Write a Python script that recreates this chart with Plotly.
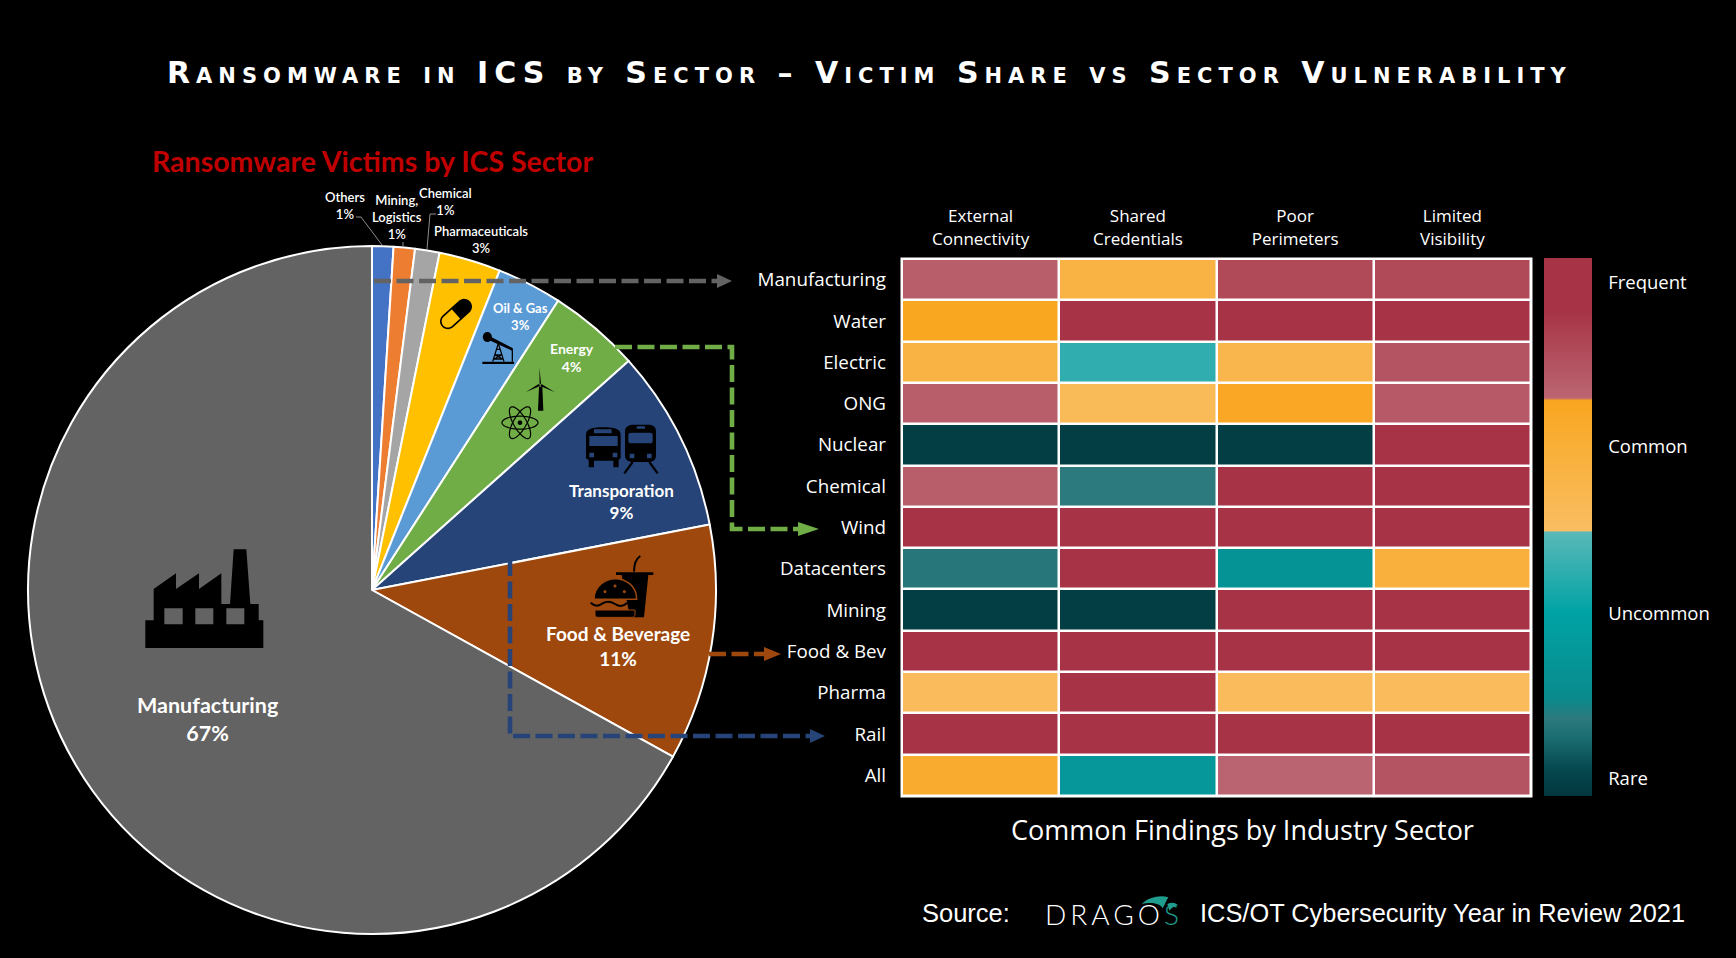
import re

import numpy as np
import plotly.graph_objects as go

WIDTH, HEIGHT = 1736, 958

# pie, clockwise from 12 o'clock
sectors = ["Others", "Mining, Logistics", "Chemical", "Pharmaceuticals", "Oil & Gas",
           "Energy", "Transporation", "Food & Beverage", "Manufacturing"]
victim_share = [1, 1, 1.15, 2.9, 3.05, 4.3, 8.55, 11.1, 66.95]
share_labels = ["1%", "1%", "1%", "3%", "3%", "4%", "9%", "11%", "67%"]
sector_colors = ["#4472C4", "#ED7D31", "#A5A5A5", "#FFC000", "#5B9BD5",
                 "#70AD47", "#264478", "#9E480E", "#636363"]

# heatmap
findings = ["External<br>Connectivity", "Shared<br>Credentials", "Poor<br>Perimeters", "Limited<br>Visibility"]
industries = ["Manufacturing", "Water", "Electric", "ONG", "Nuclear", "Chemical", "Wind",
              "Datacenters", "Mining", "Food & Bev", "Pharma", "Rail", "All"]
frequency = [
    [0.77, 0.60, 0.83, 0.83],
    [0.73, 0.95, 0.95, 0.95],
    [0.60, 0.42, 0.57, 0.80],
    [0.77, 0.53, 0.72, 0.78],
    [0.02, 0.02, 0.02, 0.95],
    [0.77, 0.145, 0.95, 0.95],
    [0.95, 0.95, 0.95, 0.95],
    [0.135, 0.95, 0.24, 0.63],
    [0.02, 0.02, 0.95, 0.95],
    [0.95, 0.95, 0.95, 0.95],
    [0.52, 0.95, 0.52, 0.52],
    [0.95, 0.95, 0.95, 0.95],
    [0.68, 0.26, 0.745, 0.80],
]
scale_values = [0.955, 0.649, 0.34, 0.033]
scale_labels = ["Frequent", "Common", "Uncommon", "Rare"]
scale_colors = [
    [0.0, "#03373E"], [0.05, "#05484F"], [0.11, "#1B6E72"], [0.145, "#2C7A7D"], [0.18, "#0A8A8C"],
    [0.34, "#00A3A5"], [0.49, "#5AB8B8"], [0.4935, "#F9BE62"],
    [0.735, "#F9A620"], [0.74, "#BC6672"], [0.9, "#A63446"], [1.0, "#A63446"],
]


def crop_path(d, ox, oy):
    # icon outlines were measured on 3x crops, bring them back to page pixels
    out, is_x = [], True
    for tok in d.split():
        if re.fullmatch(r"[A-Za-z]", tok):
            out.append(tok)
            is_x = True
        else:
            out.append(f"{(ox if is_x else oy) + float(tok) / 3:.2f}")
            is_x = not is_x
    return " ".join(out)


def points_path(xs, ys, close=True):
    d = "M " + " L ".join(f"{x:.2f} {y:.2f}" for x, y in zip(xs, ys))
    return d + " Z" if close else d


def ellipse_path(cx, cy, rx, ry, deg=0):
    t = np.radians(np.arange(0, 360, 8))
    a = np.radians(deg)
    xs = cx + rx * np.cos(t) * np.cos(a) - ry * np.sin(t) * np.sin(a)
    ys = cy + rx * np.cos(t) * np.sin(a) + ry * np.sin(t) * np.cos(a)
    return points_path(xs, ys)


def capsule_path(cx, cy, half, r, deg, top_half_only=False):
    a = np.radians(deg)
    t1 = np.radians(np.arange(-90, 91, 10))
    t2 = t1 + np.pi
    lx = np.concatenate([half + r * np.cos(t1), (0 * t2[:1] if top_half_only else -half + r * np.cos(t2))])
    ly = np.concatenate([r * np.sin(t1), (r * np.ones(1) if top_half_only else r * np.sin(t2))])
    if top_half_only:
        lx = np.append(lx, 0)
        ly = np.append(ly, -r)
    return points_path(cx + lx * np.cos(a) - ly * np.sin(a), cy + lx * np.sin(a) + ly * np.cos(a))


shapes = []


def add_shape(path, fill=None, color=None, lw=0, dash=None, layer="above"):
    line = dict(color=color or "rgba(0,0,0,0)", width=lw)
    if dash:
        line["dash"] = dash
    shapes.append(dict(type="path", path=path, xref="x2", yref="y2", layer=layer,
                       fillcolor=fill or "rgba(0,0,0,0)", line=line))


def add_arrow(xs, ys, tip_x, color):
    add_shape(points_path(xs, ys, close=False), color=color, lw=4.6, dash="17px,5.5px")
    tip_y, base = ys[-1], xs[-1]
    add_shape(f"M {base} {tip_y - 7} L {tip_x} {tip_y} L {base} {tip_y + 7} Z", fill=color)


add_arrow([374, 717], [281, 281], 732, "#636363")
add_arrow([615, 732, 732, 798], [347, 347, 529, 529], 819, "#70AD47")
add_arrow([709, 764], [654, 654], 781, "#9E480E")
add_arrow([510, 510, 810], [559, 736, 736], 825, "#264478")

# leader lines
add_shape("M 356 217 L 361 217 L 382 245", color="#8C8C8C", lw=1)
add_shape("M 403 242 L 403 247", color="#8C8C8C", lw=1)
add_shape("M 436 214 L 430 214 L 427 249", color="#8C8C8C", lw=1)

# factory
add_shape(crop_path("M 46 354 L 46 271 L 71 271 L 71 177 L 138 130 L 138 177 L 207 130 L 207 177 L 274 130 L 274 222 "
                    "L 300 222 L 311 58 L 349 58 L 361 222 L 386 222 L 386 271 L 400 271 L 400 354 Z "
                    "M 103 235 L 158 235 L 158 283 L 103 283 Z M 196 235 L 250 235 L 250 283 L 196 283 Z "
                    "M 289 235 L 343 235 L 343 283 L 289 283 Z", 130, 530), fill="#000000")
# pill
add_shape(capsule_path(456, 314, 11, 7, -42), color="#000000", lw=1.6)
add_shape(capsule_path(456, 314, 11, 7, -42, top_half_only=True), fill="#000000")
# pump jack
add_shape(crop_path("M 157 215 L 252 215 L 252 222 L 157 222 Z M 165 131 L 249 175 L 246 182 L 162 143 Z", 430, 290),
          fill="#000000")
add_shape(ellipse_path(430 + 172 / 3, 290 + 141 / 3, 4.5, 5), fill="#000000")
add_shape(crop_path("M 188 215 L 205 160 L 222 215 M 195 195 L 215 195 M 192 207 L 218 207 M 199 178 L 211 178 "
                    "M 195 195 L 218 207 M 215 195 L 192 207 M 247 178 L 247 215", 430, 290), color="#000000", lw=1.3)
# wind turbine
add_shape(crop_path("M 327 290 L 337 290 L 340 362 L 324 362 Z M 328 232 L 333 280 L 329 285 Z "
                    "M 288 306 L 326 282 L 330 288 Z M 375 307 L 334 282 L 331 288 Z", 430, 290), fill="#000000")
# atom
for angle in (0, 60, -60):
    add_shape(ellipse_path(430 + 270 / 3, 290 + 398 / 3, 18, 6.5, angle), color="#000000", lw=1.2)
add_shape(ellipse_path(430 + 270 / 3, 290 + 398 / 3, 2.3, 2.3), fill="#000000")
# bus and train
add_shape(crop_path("M 48 75 C 48 60 60 52 100 52 C 140 52 152 60 152 75 L 152 145 L 146 150 L 146 172 L 130 172 "
                    "L 130 152 L 72 152 L 72 172 L 56 172 L 56 150 L 48 145 Z "
                    "M 72 58 L 125 58 L 125 70 L 72 70 Z M 58 78 L 143 78 L 143 108 L 58 108 Z "
                    "M 58 128 L 72 128 L 72 142 L 58 142 Z M 128 128 L 142 128 L 142 142 L 128 142 Z", 570, 410),
          fill="#000000")
add_shape(crop_path("M 165 65 C 165 50 175 44 190 44 L 235 44 C 250 44 258 50 258 65 L 258 135 C 258 150 250 156 235 156 "
                    "L 190 156 C 175 156 165 150 165 135 Z M 200 49 L 225 49 L 225 56 L 200 56 Z "
                    "M 175 76 C 175 70 178 68 185 68 L 240 68 C 246 68 248 70 248 76 L 248 92 C 248 98 246 100 240 100 "
                    "L 185 100 C 178 100 175 98 175 92 Z M 179 131 L 193 131 L 193 145 L 179 145 Z "
                    "M 231 131 L 245 131 L 245 145 L 231 145 Z", 570, 410), fill="#000000")
add_shape(crop_path("M 188 156 L 163 190 M 238 156 L 263 190", 570, 410), color="#000000", lw=2.2)
# burger and drink
add_shape(crop_path("M 162 95 C 163 75 165 58 181 48", 580, 540), color="#000000", lw=2)
add_shape(crop_path("M 108 97 L 220 97 L 220 105 L 205 105 L 192 232 L 150 232 L 125 105 L 108 105 Z", 580, 540), fill="#000000")
add_shape(crop_path("M 42 178 C 42 135 80 116 105 116 C 135 116 170 135 170 178 Z", 580, 540),
          fill="#000000", color="#9E480E", lw=1.5)
for cx, cy in [(75, 155), (105, 138), (133, 155)]:
    add_shape(ellipse_path(580 + cx / 3, 540 + cy / 3, 1.5, 1.5), fill="#9E480E")
add_shape(crop_path("M 32 188 Q 50 205 68 190 Q 85 180 105 192 Q 125 205 140 190 Q 160 180 187 190", 580, 540),
          color="#000000", lw=2)
add_shape(crop_path("M 45 210 L 165 210 L 165 222 C 165 230 160 232 155 232 L 55 232 C 48 232 45 230 45 222 Z", 580, 540),
          fill="#000000", color="#9E480E", lw=1)
# dragon on the logo
add_shape(crop_path("M 335 72 C 355 52 390 44 415 52 C 408 62 405 75 398 85 C 392 72 370 64 335 72 Z "
                    "M 412 72 C 425 66 438 68 444 76 C 432 78 425 84 418 92 Z", 1030, 880), fill="#1F9D8F")

# white grid behind the cells, the gaps let it through
shapes.insert(0, dict(type="rect", xref="paper", yref="paper", layer="below",
                      x0=900.5 / WIDTH, x1=1532.5 / WIDTH, y0=1 - 797.5 / HEIGHT, y1=1 - 257.5 / HEIGHT,
                      fillcolor="#FFFFFF", line=dict(width=0)))


def note(x, y, text, size, color="#FFFFFF", family="Lato", anchor="center", **font_kw):
    return dict(xref="x2", yref="y2", x=x, y=y, text=text, showarrow=False, xanchor=anchor, yanchor="middle",
                align="center", font=dict(family=family, size=size, color=color, **font_kw))


notes = [
    note(869, 72, '<span style="letter-spacing:6px">Ransomware in ICS by Sector \u2013 Victim Share vs Sector Vulnerability</span>',
         30, family="DejaVu Sans", variant="small-caps", weight=700),
    note(372, 161, "<b>Ransomware Victims by ICS Sector</b>", 28.5, color="#C00000"),
    note(345, 205, f"{sectors[0]}<br>{share_labels[0]}", 13, weight=600),
    note(397, 217, f"Mining,<br>Logistics<br>{share_labels[1]}", 13, weight=600),
    note(445, 201, f"{sectors[2]}<br>{share_labels[2]}", 13, weight=600),
    note(481, 239, f"{sectors[3]}<br>{share_labels[3]}", 13, weight=600),
    note(520, 316, f"<b>{sectors[4]}</b><br><b>{share_labels[4]}</b>", 13),
    note(572, 357, f"<b>{sectors[5]}</b><br><b>{share_labels[5]}</b>", 14),
    note(621, 501, f"<b>{sectors[6]}</b><br><b>{share_labels[6]}</b>", 17),
    note(618, 646, f"<b>{sectors[7]}</b><br><b>{share_labels[7]}</b>", 19),
    note(207, 719, f"<b>{sectors[8]}</b><br><b>{share_labels[8]}</b>", 21.5),
    note(1242, 829, "Common Findings by Industry Sector", 27, family="Open Sans"),
    note(920, 913, "Source:", 25.5, family="Liberation Sans", anchor="left"),
    note(1043, 914, '<span style="letter-spacing:4px">DRAGO<span style="fill:#1F9D8F">S</span></span>', 28,
         anchor="left", weight=300),
    note(1198, 913, "ICS/OT Cybersecurity Year in Review 2021", 25.4, family="Liberation Sans", anchor="left"),
]

fig = go.Figure()

fig.add_trace(go.Pie(
    labels=sectors,
    values=victim_share,
    sort=False,
    direction="clockwise",
    rotation=0,
    textinfo="none",
    showlegend=False,
    marker=dict(colors=sector_colors, line=dict(color="#FFFFFF", width=2)),
    domain=dict(x=[28 / WIDTH, 716 / WIDTH], y=[1 - 934 / HEIGHT, 1 - 246 / HEIGHT]),
))

fig.add_trace(go.Heatmap(
    x=findings,
    y=industries,
    z=frequency,
    zmin=0,
    zmax=1,
    xgap=2.5,
    ygap=2.5,
    colorscale=scale_colors,
    colorbar=dict(
        x=1544 / WIDTH, xanchor="left", xpad=0,
        y=1 - 527 / HEIGHT, yanchor="middle", ypad=0,
        len=538, lenmode="pixels",
        thickness=48, thicknessmode="pixels",
        outlinewidth=0,
        tickvals=scale_values,
        ticktext=scale_labels,
        ticks="outside", ticklen=13, tickcolor="rgba(0,0,0,0)",
        tickfont=dict(family="Open Sans", size=18.5, color="#FFFFFF"),
    ),
))

fig.update_layout(
    width=WIDTH,
    height=HEIGHT,
    margin=dict(l=0, r=0, t=0, b=0),
    paper_bgcolor="#000000",
    plot_bgcolor="rgba(0,0,0,0)",
    xaxis=dict(domain=[902 / WIDTH, 1531 / WIDTH], side="top", showgrid=False, zeroline=False,
               ticks="", ticklabelstandoff=10, fixedrange=True, anchor="y",
               tickfont=dict(family="Open Sans", size=17, color="#FFFFFF")),
    yaxis=dict(domain=[1 - 796 / HEIGHT, 1 - 259 / HEIGHT], autorange="reversed", showgrid=False, zeroline=False,
               ticks="", ticklabelstandoff=15, fixedrange=True, anchor="x",
               tickfont=dict(family="Open Sans", size=18.8, color="#FFFFFF")),
    xaxis2=dict(domain=[0, 1], range=[0, WIDTH], visible=False, fixedrange=True, anchor="y2"),
    yaxis2=dict(domain=[0, 1], range=[HEIGHT, 0], visible=False, fixedrange=True, anchor="x2"),
    shapes=shapes,
    annotations=notes,
)

fig.write_html("out.html", config={"displayModeBar": False}, post_script="document.body.style.margin='0';")
